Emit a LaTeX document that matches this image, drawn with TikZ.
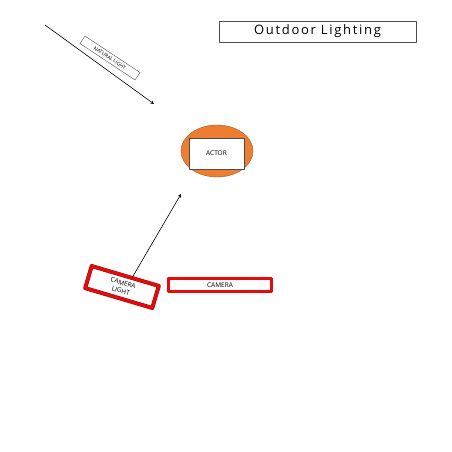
\documentclass[tikz,border=0pt]{standalone}
\usepackage{fontspec}
\setmainfont{Open Sans}
\usetikzlibrary{shapes.geometric, calc}
\definecolor{lightred}{RGB}{230,10,10}
\definecolor{darkred}{RGB}{140,20,20}
\definecolor{actororange}{RGB}{237,125,49}
\begin{document}
\begin{tikzpicture}[x=1pt, y=-1pt, line join=round, >=stealth,
	label/.style={font=\fontsize{6.5}{8}\selectfont, align=center, inner sep=0pt},
	redbox/.style={label, draw=darkred, double=lightred, double distance=3pt, line width=.5pt, fill=white},
	greybox/.style={label, draw=black!70, line width=.4pt, fill=white}]
	\useasboundingbox (0,0) rectangle (452,452);
	\path 
	(45,25) coordinate (sun)
	(154,104) coordinate (suntip)
	(181,194) coordinate (lighttip)
		;
	% title
	\node[draw=black!70, line width=.5pt, minimum width=197pt, minimum height=21pt, inner sep=0pt,
		font=\fontsize{13}{15}\selectfont\addfontfeatures{LetterSpace=13}] (title) at (317.5,31.5) {Outdoor Lighting};
	% natural light
	\draw[->, line width=.6pt] (sun)--(suntip);
	\node[greybox, rotate=-33.5, minimum width=66pt, minimum height=9pt,
		font=\fontsize{5}{6}\selectfont] (natural) at (110,58) {NATURAL LIGHT};
	% actor
	\node[ellipse, draw=actororange!70!black, fill=actororange, minimum width=72pt, minimum height=52pt] (actor) at (217,151) {};
	\node[greybox, minimum width=55pt, minimum height=31pt] (actorbox) at (216.5,153.5) {ACTOR};
	% camera and camera light
	\node[redbox, rotate=-16.5, minimum width=70pt, minimum height=23pt] (camlight) at (122,287) {CAMERA\\LIGHT};
	\node[redbox, double distance=2.5pt, minimum width=103pt, minimum height=13pt] (camera) at (220,285) {CAMERA};
	\draw[->, line width=.6pt] ($(camlight.north)!0.2!(camlight.north east)$)--(lighttip);
\end{tikzpicture}
\end{document}
